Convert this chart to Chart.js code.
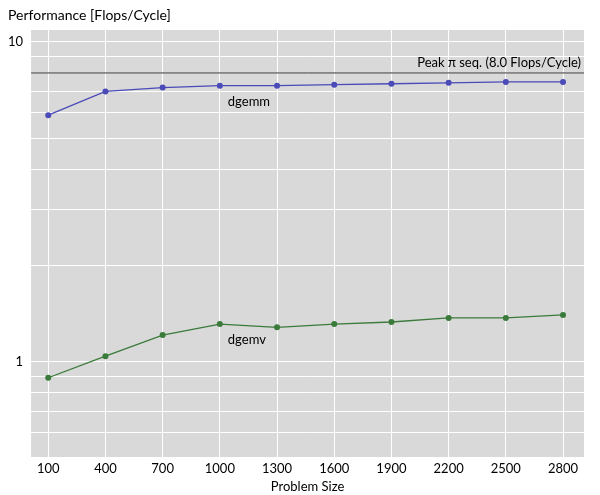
<!DOCTYPE html>
<html><head><meta charset="utf-8">
<script src="https://cdn.jsdelivr.net/npm/chart.js@4"></script>
<style>body{margin:0;background:#fff}#w{width:600px;height:495px}</style>
</head><body><div id="w"><canvas id="c"></canvas></div>
<script>
const sizes=[100,400,700,1000,1300,1600,1900,2200,2500,2800];
const dgemm=[5.9,7.0,7.2,7.3,7.3,7.35,7.4,7.45,7.5,7.5];
const dgemv=[0.89,1.04,1.21,1.31,1.28,1.31,1.33,1.37,1.37,1.40];
const peak=8.0;
const yMajor=[1,10];
const F='"Lato", sans-serif';
const bg={id:'bg',beforeDraw(ch){const a=ch.chartArea,x=ch.ctx;x.save();x.fillStyle='#d9d9d9';x.fillRect(a.left,a.top,a.width,a.height);x.restore();},
afterDatasetsDraw(ch){const x=ch.ctx,a=ch.chartArea,ys=ch.scales.y,xs=ch.scales.x;x.save();x.font='13px '+F;x.fillStyle='#000';
x.textAlign='right';x.fillText('Peak π seq. (8.0 Flops/Cycle)',a.right-3,ys.getPixelForValue(peak)-6);
x.textAlign='left';x.fillText('dgemm',xs.getPixelForValue(1000)+8,ys.getPixelForValue(7.3)+20);
x.fillText('dgemv',xs.getPixelForValue(1000)+8,ys.getPixelForValue(1.31)+20);
x.font='14px '+F;x.fillText('Performance [Flops/Cycle]',8,20);x.restore();}};
new Chart(document.getElementById('c'),{type:'line',
data:{datasets:[
{data:sizes.map((s,i)=>({x:s,y:dgemm[i]})),borderColor:'#4a4ab8',backgroundColor:'#4a4ab8',borderWidth:1.3,pointRadius:3,pointBorderWidth:0},
{data:sizes.map((s,i)=>({x:s,y:dgemv[i]})),borderColor:'#3a7a3a',backgroundColor:'#3a7a3a',borderWidth:1.3,pointRadius:3,pointBorderWidth:0},
{data:[{x:0,y:peak},{x:3000,y:peak}],borderColor:'#333',borderWidth:1,pointRadius:0}
]},
plugins:[bg],
options:{animation:false,responsive:true,maintainAspectRatio:false,layout:{padding:{top:30,right:16,left:0,bottom:0}},
plugins:{legend:{display:false},tooltip:{enabled:false}},
scales:{
x:{type:'linear',min:10,max:2910,afterBuildTicks:s=>{s.ticks=sizes.map(v=>({value:v}));},
grid:{color:'#fff',lineWidth:1,drawTicks:false},border:{display:false},
ticks:{font:{family:F,size:13},color:'#000',padding:3,autoSkip:false,maxRotation:0,callback:v=>String(v)},
title:{display:true,text:'Problem Size',font:{family:F,size:13},color:'#000',padding:{top:0,bottom:0}}},
y:{type:'logarithmic',min:0.5,max:10.9,
afterBuildTicks:s=>{const t=[];for(const v of [0.5,0.6,0.7,0.8,0.9,1,2,3,4,5,6,7,8,9,10])t.push({value:v});s.ticks=t;},
grid:{color:'#fff',lineWidth:1,drawTicks:false},border:{display:false},
ticks:{font:{family:F,size:13},color:'#000',padding:8,autoSkip:false,callback:v=>yMajor.includes(v)?String(v):''}}
}}});
</script></body></html>
